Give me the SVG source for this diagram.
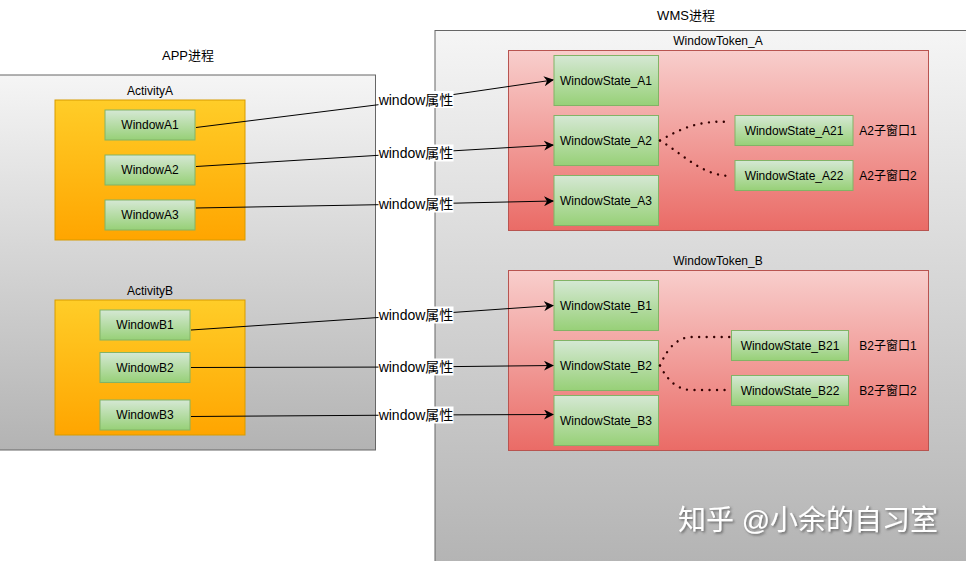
<svg xmlns="http://www.w3.org/2000/svg" width="966" height="561" viewBox="0 0 966 561">
<defs>
<linearGradient id="gGray" x1="0" y1="0" x2="0" y2="1"><stop offset="0" stop-color="#f5f5f5"/><stop offset="1" stop-color="#b3b3b3"/></linearGradient>
<linearGradient id="gOrange" x1="0" y1="0" x2="0" y2="1"><stop offset="0" stop-color="#ffcd28"/><stop offset="1" stop-color="#ffa500"/></linearGradient>
<linearGradient id="gRed" x1="0" y1="0" x2="0" y2="1"><stop offset="0" stop-color="#f8cecc"/><stop offset="1" stop-color="#ea6b66"/></linearGradient>
<linearGradient id="gGreen" x1="0" y1="0" x2="0" y2="1"><stop offset="0" stop-color="#d5e8d4"/><stop offset="1" stop-color="#97d077"/></linearGradient>
<marker id="arr" viewBox="0 0 10 10" refX="9" refY="5" markerWidth="10" markerHeight="10" markerUnits="userSpaceOnUse" orient="auto"><path d="M0,0 L10,5 L0,10 L3,5 Z" fill="#000"/></marker>
<filter id="sh" x="-5%" y="-20%" width="110%" height="140%"><feDropShadow dx="1.5" dy="1.5" stdDeviation="1" flood-color="#555" flood-opacity="0.8"/></filter>
</defs>
<style>
text{font-family:"Liberation Sans","Noto Sans CJK SC",sans-serif;fill:#000}
.t{font-size:12px;text-anchor:middle;dominant-baseline:central}
.title{font-size:13px;text-anchor:middle;dominant-baseline:central}
.lbl{font-size:14px;text-anchor:middle;dominant-baseline:central}
.cont{fill:url(#gGray);stroke:#666;stroke-width:1}
.act{fill:url(#gOrange);stroke:#d79b00;stroke-width:1}
.tok{fill:url(#gRed);stroke:#b85450;stroke-width:1}
.win{fill:url(#gGreen);stroke:#82b366;stroke-width:1}
.edge{fill:none;stroke:#000;stroke-width:1}
.dot{fill:none;stroke:#300;stroke-width:2.4;stroke-dasharray:0.01 7.5;stroke-linecap:round}
.lbg{fill:#fff}
</style>

<g id="app">
<text class="title" x="188" y="55">APP进程</text>
<rect class="cont" x="-1" y="75" width="376.5" height="375"/>
</g>
<g id="wms">
<text class="title" x="686" y="15">WMS进程</text>
<rect class="cont" x="435" y="30.5" width="540" height="540"/>
</g>

<g id="activityA">
<text class="t" x="150" y="91">ActivityA</text>
<rect class="act" x="55" y="100" width="190" height="140"/>
</g>
<g id="windowA1"><rect class="win" x="105" y="110" width="90" height="30"/><text class="t" x="150" y="125">WindowA1</text></g>
<g id="windowA2"><rect class="win" x="105" y="155" width="90" height="30"/><text class="t" x="150" y="170">WindowA2</text></g>
<g id="windowA3"><rect class="win" x="105" y="200" width="90" height="30"/><text class="t" x="150" y="215">WindowA3</text></g>

<g id="activityB">
<text class="t" x="150" y="291">ActivityB</text>
<rect class="act" x="55" y="300" width="190" height="135"/>
</g>
<g id="windowB1"><rect class="win" x="100" y="310" width="90" height="30"/><text class="t" x="145" y="325">WindowB1</text></g>
<g id="windowB2"><rect class="win" x="100" y="352.5" width="90" height="30"/><text class="t" x="145" y="367.5">WindowB2</text></g>
<g id="windowB3"><rect class="win" x="100" y="400" width="90" height="30"/><text class="t" x="145" y="415">WindowB3</text></g>

<g id="tokenA">
<text class="t" x="718" y="41">WindowToken_A</text>
<rect class="tok" x="508.5" y="50.5" width="420" height="180"/>
</g>
<g id="stateA1"><rect class="win" x="554" y="55.5" width="104.5" height="50"/><text class="t" x="606" y="80.5">WindowState_A1</text></g>
<g id="stateA2"><rect class="win" x="554" y="115.5" width="104.5" height="50"/><text class="t" x="606" y="140.5">WindowState_A2</text></g>
<g id="stateA3"><rect class="win" x="554" y="175.5" width="104.5" height="50"/><text class="t" x="606" y="200.5">WindowState_A3</text></g>
<g id="stateA21"><rect class="win" x="735" y="115.5" width="118" height="30"/><text class="t" x="794" y="130.5">WindowState_A21</text><text class="t" x="888" y="130.5">A2子窗口1</text></g>
<g id="stateA22"><rect class="win" x="735" y="160.5" width="118" height="30"/><text class="t" x="794" y="175.5">WindowState_A22</text><text class="t" x="888" y="175.5">A2子窗口2</text></g>

<g id="tokenB">
<text class="t" x="718" y="261">WindowToken_B</text>
<rect class="tok" x="508.5" y="270.5" width="420" height="180"/>
</g>
<g id="stateB1"><rect class="win" x="554" y="280.5" width="104.5" height="50"/><text class="t" x="606" y="305.5">WindowState_B1</text></g>
<g id="stateB2"><rect class="win" x="554" y="340.5" width="104.5" height="50"/><text class="t" x="606" y="365.5">WindowState_B2</text></g>
<g id="stateB3"><rect class="win" x="554" y="395.5" width="104.5" height="50"/><text class="t" x="606" y="420.5">WindowState_B3</text></g>
<g id="stateB21"><rect class="win" x="731.5" y="330.5" width="117" height="30"/><text class="t" x="790" y="345.5">WindowState_B21</text><text class="t" x="888" y="345.5">B2子窗口1</text></g>
<g id="stateB22"><rect class="win" x="731.5" y="375.5" width="117" height="30"/><text class="t" x="790" y="390.5">WindowState_B22</text><text class="t" x="888" y="390.5">B2子窗口2</text></g>

<g id="connectors">
<path class="edge" d="M196,127.5 L416,100 L553,80" marker-end="url(#arr)"/>
<path class="edge" d="M196,166.5 L416,153 L553,145" marker-end="url(#arr)"/>
<path class="edge" d="M196,208 L416,204 L553,201" marker-end="url(#arr)"/>
<path class="edge" d="M191,330 L416,315 L553,305.5" marker-end="url(#arr)"/>
<path class="edge" d="M191,367.5 L416,367 L553,365.5" marker-end="url(#arr)"/>
<path class="edge" d="M191,416.5 L416,415 L553,414.5" marker-end="url(#arr)"/>
<g id="edgeLabels">
<rect class="lbg" x="378.5" y="91" width="75" height="17"/><text class="lbl" x="416" y="99.5">window属性</text>
<rect class="lbg" x="378.5" y="144.5" width="75" height="17"/><text class="lbl" x="416" y="153">window属性</text>
<rect class="lbg" x="378.5" y="195.5" width="75" height="17"/><text class="lbl" x="416" y="204">window属性</text>
<rect class="lbg" x="378.5" y="306.5" width="75" height="17"/><text class="lbl" x="416" y="315">window属性</text>
<rect class="lbg" x="378.5" y="358.5" width="75" height="17"/><text class="lbl" x="416" y="367">window属性</text>
<rect class="lbg" x="378.5" y="406.5" width="75" height="17"/><text class="lbl" x="416" y="415">window属性</text>
</g>
<path class="dot" d="M660,140.5 C682,128 700,120 730,122"/>
<path class="dot" d="M660,140.5 C682,153 700,175 730,176"/>
<path class="dot" d="M660,365.5 Q672,337 692,337 L731,337"/>
<path class="dot" d="M660,365.5 Q672,390 692,390 L731,390"/>
</g>

<text x="808" y="520" font-size="28" text-anchor="middle" dominant-baseline="central" style="fill:#fff" filter="url(#sh)">知乎 @小余的自习室</text>
</svg>
